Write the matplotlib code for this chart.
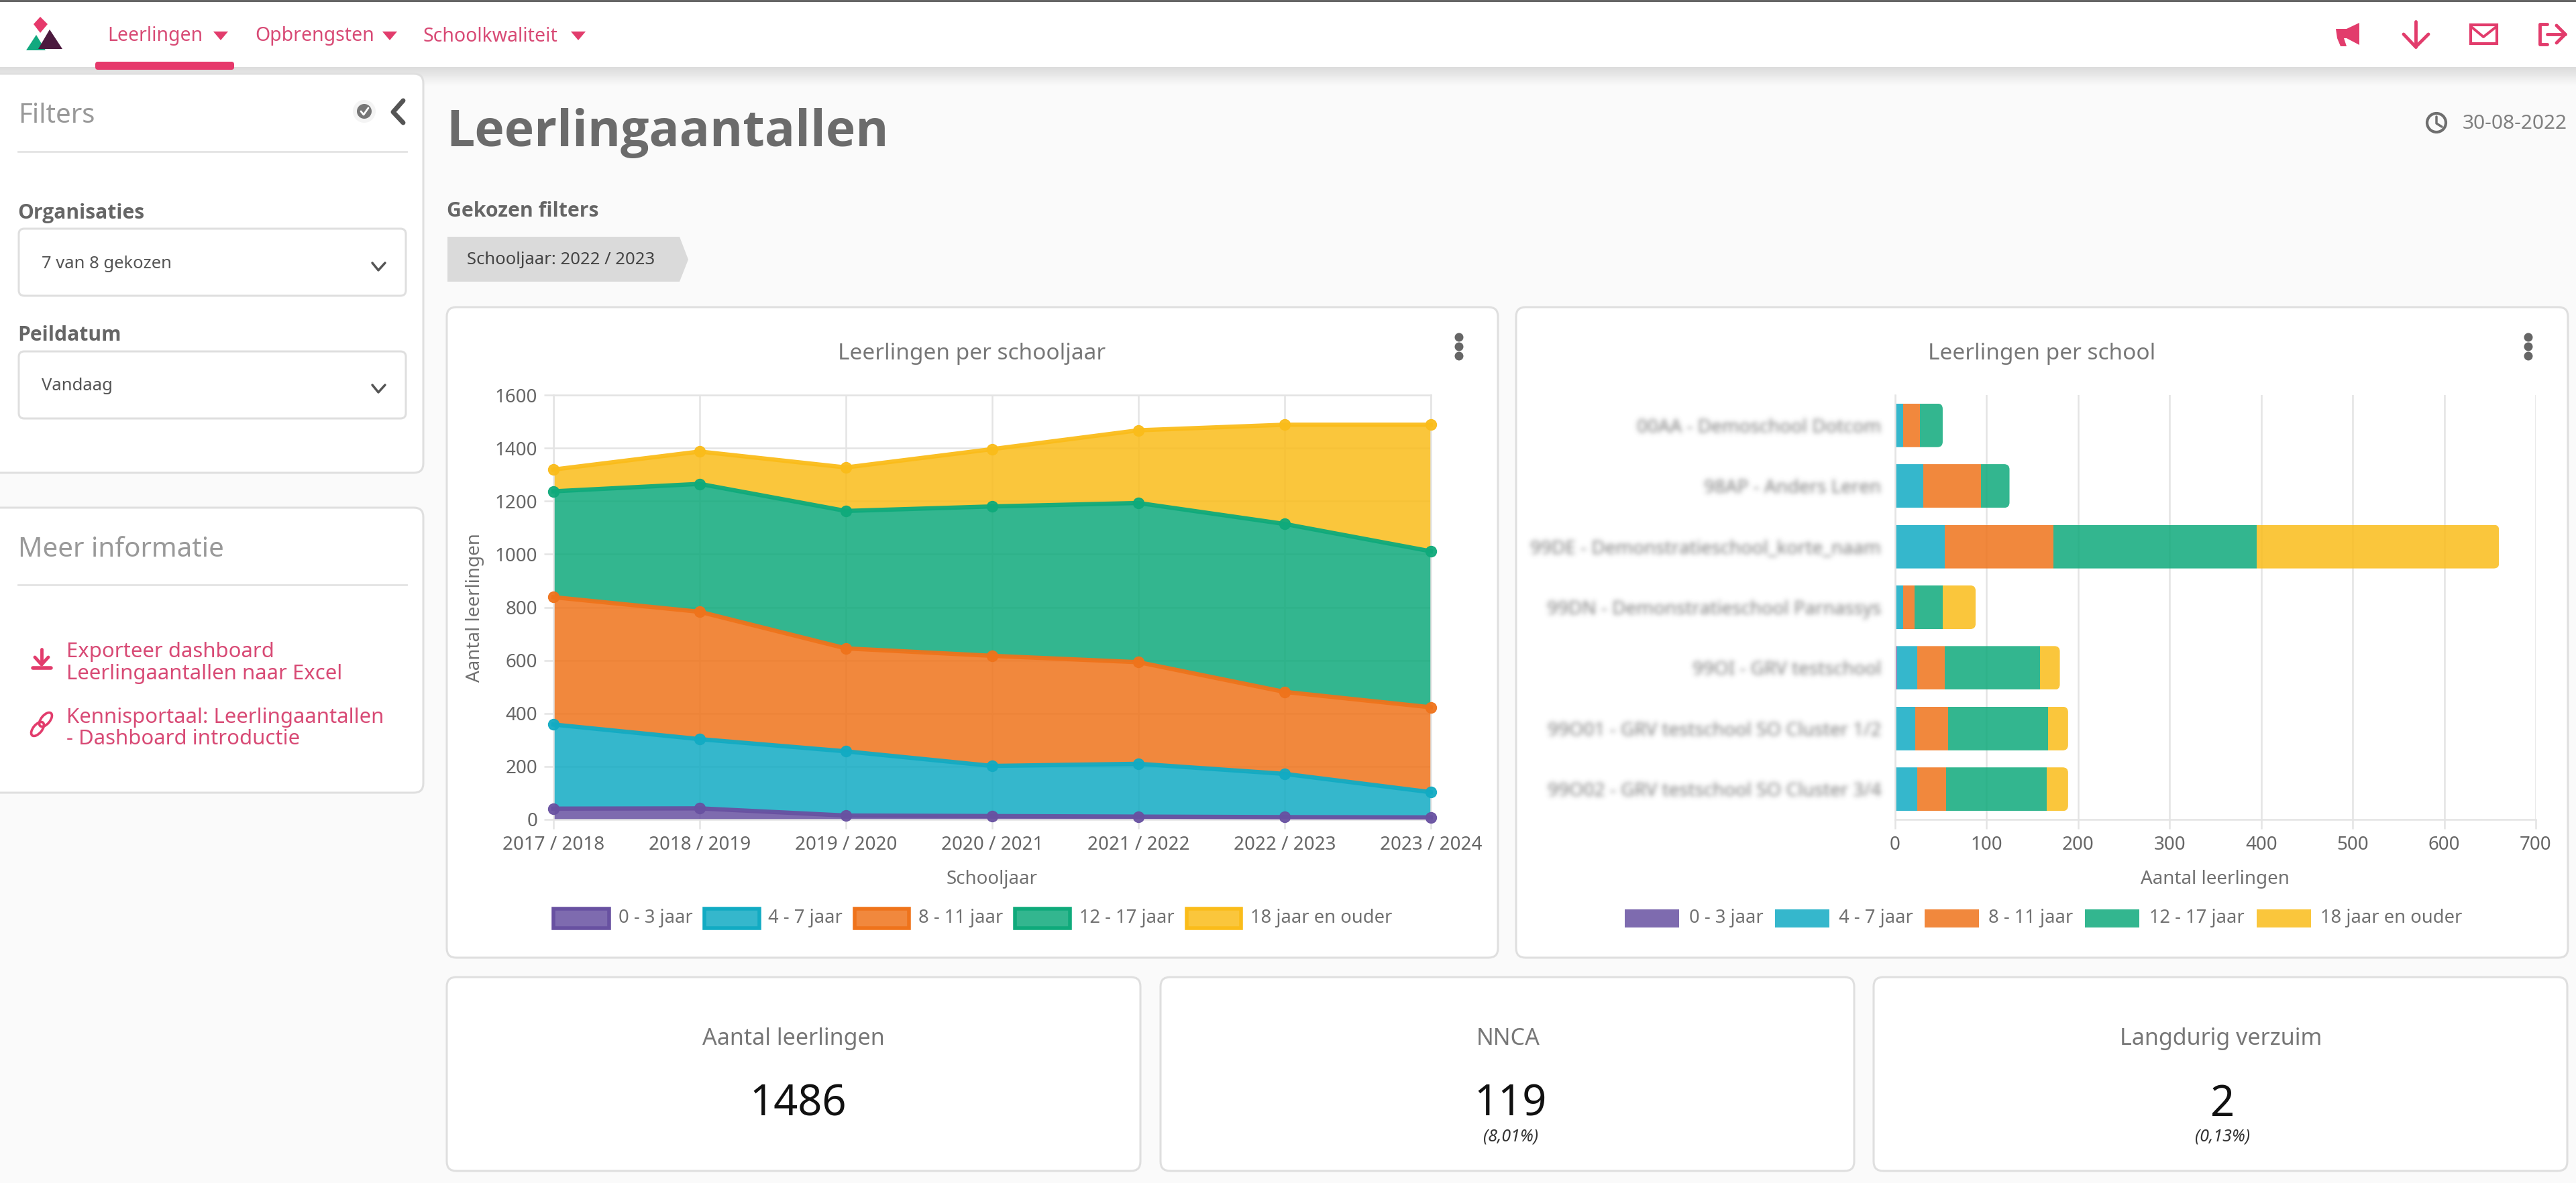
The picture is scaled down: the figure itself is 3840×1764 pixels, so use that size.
import numpy as np
import matplotlib
matplotlib.use("Agg")
import matplotlib.pyplot as plt
from matplotlib.patches import FancyBboxPatch, Rectangle, Polygon, Circle, Ellipse
from matplotlib.transforms import IdentityTransform

plt.rcParams['font.family'] = ['Noto Sans', 'DejaVu Sans']
BOLD = ['Open Sans', 'DejaVu Sans']

# ---------- data ----------
years = ['2017 / 2018', '2018 / 2019', '2019 / 2020', '2020 / 2021', '2021 / 2022', '2022 / 2023', '2023 / 2024']
age_labels = ['0 - 3 jaar', '4 - 7 jaar', '8 - 11 jaar', '12 - 17 jaar', '18 jaar en ouder']
age_0_3 = [41, 42, 15, 13, 11, 9, 8]
age_4_7 = [317, 261, 242, 189, 199, 163, 95]
age_8_11 = [480, 480, 388, 415, 383, 309, 320]
age_12_17 = [399, 482, 518, 563, 600, 633, 588]
age_18 = [82, 122, 164, 216, 274, 374, 477]

schools = ['00AA - Demoschool Dotcom', '98AP - Anders Leren', '99DE - Demonstratieschool_korte_naam',
           '99DN - Demonstratieschool Parnassys', '99OI - GRV testschool',
           '99O01 - GRV testschool SO Cluster 1/2', '99O02 - GRV testschool SO Cluster 3/4']
school_0_3 = [0, 0, 0, 0, 2, 0, 0]
school_4_7 = [9, 31, 54, 9, 22, 22, 24]
school_8_11 = [18, 63, 119, 12, 30, 36, 32]
school_12_17 = [25, 31, 222, 31, 104, 109, 110]
school_18 = [0, 0, 265, 36, 22, 22, 23]

kpi_titles = ['Aantal leerlingen', 'NNCA', 'Langdurig verzuim']
kpi_values = ['1486', '119', '2']
kpi_subs = ['', '(8,01%)', '(0,13%)']

colors = ['#6851a1', '#12abc3', '#ef731b', '#0faa7b', '#fabc1a']
FILL_A = 0.85
PINK = '#d84a75'
ICON = '#e23c6c'
GREY = '#6e6e6e'
W, H = 3840, 1764

fig = plt.figure(figsize=(W/100, H/100), dpi=100, facecolor='#fafafa')
bg = fig.add_axes([0, 0, 1, 1], zorder=0)
bg.axis('off')


def axrect(x0, y0, x1, y1, **kw):
    return fig.add_axes([x0/W, 1-y1/H, (x1-x0)/W, (y1-y0)/H], **kw)


def T(x, y, s, size, color=GREY, ha='left', va='center', **kw):
    return bg.text(x, y, s, fontsize=size, color=color, ha=ha, va=va, **kw)


def card(x0, y0, x1, y1, r=14, ec='#dfdfdf'):
    bg.add_patch(FancyBboxPatch((x0+r, y0+r), x1-x0-2*r, y1-y0-2*r,
                                boxstyle=f'round,pad={r},rounding_size={r}',
                                fc='white', ec=ec, lw=2.2))


def L(xs, ys, color=ICON, lw=3.5, **kw):
    bg.plot(xs, ys, color=color, lw=lw, solid_capstyle='round', solid_joinstyle='round', **kw)


def blur_text(img, dpi, sigma=3.6, pad=14, grey=0.48, gain=1.0):
    """Agg filter: gaussian blur of the glyph coverage, the text stays real text."""
    alpha = np.pad(img[..., 3], pad)
    r = int(3*sigma)
    kern = np.exp(-0.5*(np.arange(-r, r+1)/sigma)**2)
    kern /= kern.sum()
    alpha = np.apply_along_axis(lambda v: np.convolve(v, kern, mode='same'), 0, alpha)
    alpha = np.apply_along_axis(lambda v: np.convolve(v, kern, mode='same'), 1, alpha)
    out = np.full(alpha.shape + (4,), grey, dtype=float)
    out[..., 3] = np.clip(alpha*gain, 0, 1)
    return out, -pad, -pad


# header + shadow
bg.imshow(np.linspace(0.86, 0.98, 30)[:, None], extent=(0, W, 128, 100), cmap='gray', vmin=0, vmax=1,
          aspect='auto', zorder=0)
bg.add_patch(Rectangle((0, 0), W, 100, fc='white', ec='none'))
bg.add_patch(Rectangle((0, 0), W, 3, fc='#666666', ec='none'))
bg.add_patch(FancyBboxPatch((146, 96), 199, 4, boxstyle='round,pad=4,rounding_size=4', fc='#e6396b', ec='none'))

# logo
bg.add_patch(Polygon([(60, 25), (71, 36), (60, 49), (50, 36)], fc='#e6396b', ec='none'))
bg.add_patch(Polygon([(39, 75), (54, 52), (68, 75)], fc='#12a97f', ec='none'))
bg.add_patch(Polygon([(57, 73), (74, 44), (93, 73)], fc='#4c1a3f', ec='none'))

nav = [(160, 'Leerlingen', 329), (380, 'Opbrengsten', 581), (630, 'Schoolkwaliteit', 862)]
for x, s, tx in nav:
    T(x, 54, s, 20.5, PINK)
    bg.add_patch(Polygon([(tx-11, 47), (tx+11, 47), (tx, 60)], fc=ICON, ec='none'))

# right header icons
bg.add_patch(Polygon([(3482, 43), (3498, 43), (3517, 34), (3517, 67), (3498, 57), (3494, 57), (3498, 69),
                      (3489, 69), (3484, 57)], fc=ICON, ec='none'))
L([3601, 3601], [32, 70])
L([3583, 3601, 3620], [51, 70, 51])
bg.add_patch(Rectangle((3683, 37), 39, 28, fc='none', ec=ICON, lw=3))
L([3684, 3702, 3721], [40, 55, 40], lw=2.8)
L([3797, 3786, 3786, 3797], [36, 36, 66, 66])
L([3797, 3824], [51, 51])
L([3811, 3824, 3811], [38, 51, 64])

# page heading
T(665, 198, 'Leerlingaantallen', 54, color='#6b6b6b', fontweight='bold', family=BOLD)
bg.add_patch(Circle((3632, 183), 14, fc='none', ec='#6e6e6e', lw=3))
L([3632, 3632, 3640], [174, 184, 189], color='#6e6e6e', lw=2.5)
T(3827, 185, '30-08-2022', 21.5, color='#808080', ha='right')

# filters panel
card(-20, 110, 631, 705)
T(27, 173, 'Filters', 29, color='#999999')
bg.add_patch(Circle((543, 166), 17, fc='#f4f4f4', ec='none'))
bg.add_patch(Circle((543, 166), 11, fc='#777777', ec='none'))
L([538, 542, 549], [166, 171, 161], color='white', lw=2)
L([601, 586, 601], [150, 167, 183], color='#555555', lw=5)
bg.plot([27, 606], [226, 226], color='#e3e3e3', lw=2)
T(26, 318, 'Organisaties', 21.6, color='#666666', fontweight='bold', family=BOLD)
card(28, 341, 605, 441, r=8)
T(62, 393, '7 van 8 gekozen', 18.5, color='#555555')
L([555, 564, 574], [392, 403, 392], color='#555555', lw=2.5)
T(26, 500, 'Peildatum', 21.6, color='#666666', fontweight='bold', family=BOLD)
card(28, 524, 605, 624, r=8)
T(62, 575, 'Vandaag', 18.5, color='#555555')
L([555, 564, 574], [574, 585, 574], color='#555555', lw=2.5)

# more info panel
card(-20, 757, 631, 1182)
T(27, 820, 'Meer informatie', 29, color='#999999')
bg.plot([27, 606], [872, 872], color='#e3e3e3', lw=2)
for y, s in [(972, 'Exporteer dashboard'), (1005, 'Leerlingaantallen naar Excel'),
             (1070, 'Kennisportaal: Leerlingaantallen'), (1102, '- Dashboard introductie')]:
    T(99, y, s, 22.4, PINK)
L([62, 62], [968, 990])
L([52, 62, 72], [980, 991, 980])
L([49, 76], [996, 996], lw=4)
for cx, cy in [(56, 1087), (68, 1073)]:
    bg.add_patch(Ellipse((cx, cy), 25, 13, angle=-50, fc='none', ec=ICON, lw=2.6))

# filters chosen
T(666, 315, 'Gekozen filters', 21.8, color='#666666', fontweight='bold', family=BOLD)
bg.add_patch(Polygon([(667, 353), (1013, 353), (1026, 387), (1013, 420), (667, 420)], fc='#dadada', ec='none'))
T(696, 387, 'Schooljaar: 2022 / 2023', 18.5, color='#444444')

# cards
card(666, 458, 2233, 1428)
card(2260, 458, 3828, 1428)
for x0, x1 in [(666, 1700), (1730, 2764), (2793, 3827)]:
    card(x0, 1457, x1, 1746)


def kebab(x):
    for y in (503, 517, 531):
        bg.add_patch(Circle((x, y), 6.5, fc='#666666', ec='none'))


kebab(2175)
kebab(3769)
T(1449, 528, 'Leerlingen per schooljaar', 24, color='#777777', ha='center')
T(3044, 528, 'Leerlingen per school', 24, color='#777777', ha='center')

GRID = '#e4e4e4'
TICK = '#666666'

# area chart
ax = axrect(825, 589, 2133, 1222, zorder=2)
ax.patch.set_alpha(0)
xpos = np.arange(len(years))
series = [age_0_3, age_4_7, age_8_11, age_12_17, age_18]
bottom = np.zeros(len(years))
for vals, c in zip(series, colors):
    top = bottom + np.array(vals)
    ax.fill_between(xpos, bottom, top, color=c, alpha=FILL_A, lw=0, zorder=2)
    ax.plot(xpos, top, color=c, lw=4.6, alpha=0.95, marker='o', ms=11.5, mec=c, mfc=c, clip_on=False, zorder=3)
    bottom = top
ax.set_xlim(0, 6)
ax.set_ylim(0, 1600)
ax.set_xticks(xpos)
ax.set_xticklabels(years)
ax.set_yticks(np.arange(0, 1601, 200))
ax.grid(True, color=GRID, lw=1.8, zorder=0)
ax.set_axisbelow(True)
for s in ax.spines.values():
    s.set_color(GRID)
    s.set_linewidth(1.8)
ax.tick_params(colors=GRID, length=10, width=1.8, labelcolor=TICK, labelsize=20, pad=7)
T(1479, 1311, 'Schooljaar', 20, color='#707070', ha='center')
T(708, 906, 'Aantal leerlingen', 20, color='#707070', ha='center', rotation=90)

# bar chart
ax2 = axrect(2825, 589, 3780, 1222, zorder=2)
ax2.patch.set_alpha(0)
ypos = np.arange(len(schools))
sseries = [school_0_3, school_4_7, school_8_11, school_12_17, school_18]
left = np.zeros(len(schools))
containers = []
for vals, c in zip(sseries, colors):
    containers.append(ax2.barh(ypos, vals, left=left, height=0.72, color=c, alpha=FILL_A, lw=0, zorder=2))
    left = left + np.array(vals)
ax2.set_xlim(0, 700)
ax2.set_ylim(6.5, -0.5)
ax2.set_xticks(np.arange(0, 701, 100))
ax2.set_yticks(ypos)
ax2.set_yticklabels(schools)
ax2.grid(True, axis='x', color=GRID, lw=1.8, zorder=0)
ax2.set_axisbelow(True)
for k, s in ax2.spines.items():
    s.set_color(GRID)
    s.set_linewidth(1.8)
    s.set_visible(k in ('left', 'bottom'))
ax2.tick_params(axis='x', colors=GRID, length=10, width=1.8, labelcolor=TICK, labelsize=20, pad=7)
ax2.tick_params(axis='y', length=0, labelcolor='#555555', labelsize=20, pad=15)
for lab in ax2.get_yticklabels():
    lab.set_agg_filter(blur_text)
T(3302, 1311, 'Aantal leerlingen', 20, color='#707070', ha='center')

# rounded outer end of each stacked row, as in the reference
for i, total in enumerate(left):
    (x0, y0), (x1, y1) = ax2.transData.transform([(0, i+0.36), (total, i-0.36)])
    clip = FancyBboxPatch((x0-30, y0), x1-x0+30, y1-y0, boxstyle='round,pad=0,rounding_size=8',
                          transform=IdentityTransform())
    for cont in containers:
        cont[i].set_clip_path(clip)

# legends
leg1 = [(823, 910, 922), (1048, 1134, 1145), (1272, 1357, 1369), (1511, 1597, 1609), (1767, 1852, 1864)]
leg2 = [(2422, 2503, 2518), (2646, 2727, 2741), (2869, 2950, 2964), (3108, 3189, 3204), (3364, 3445, 3459)]
for (x0, x1, tx), lab, c in zip(leg1, age_labels, colors):
    bg.add_patch(Rectangle((x0+2, 1355), x1-x0-4, 29, fc=matplotlib.colors.to_rgba(c, 0.85), ec=c, lw=4))
    T(tx, 1369, lab, 19.7, color='#707070')
for (x0, x1, tx), lab, c in zip(leg2, age_labels, colors):
    bg.add_patch(Rectangle((x0, 1356), x1-x0, 27, fc=matplotlib.colors.to_rgba(c, 0.85), ec='none'))
    T(tx, 1369, lab, 19.7, color='#707070')

# KPI cards
for cx, vx, t, v, sub in zip((1183, 2248, 3311), (1190, 2252, 3313), kpi_titles, kpi_values, kpi_subs):
    T(cx, 1549, t, 24.5, color='#777777', ha='center')
    T(vx, 1647, v, 45.5, color='#111111', ha='center')
    if sub:
        T(vx, 1695, sub, 18, color='#333333', ha='center', style='italic')

bg.set_xlim(0, W)
bg.set_ylim(H, 0)
fig.savefig('out.png', dpi=100, facecolor=fig.get_facecolor())
